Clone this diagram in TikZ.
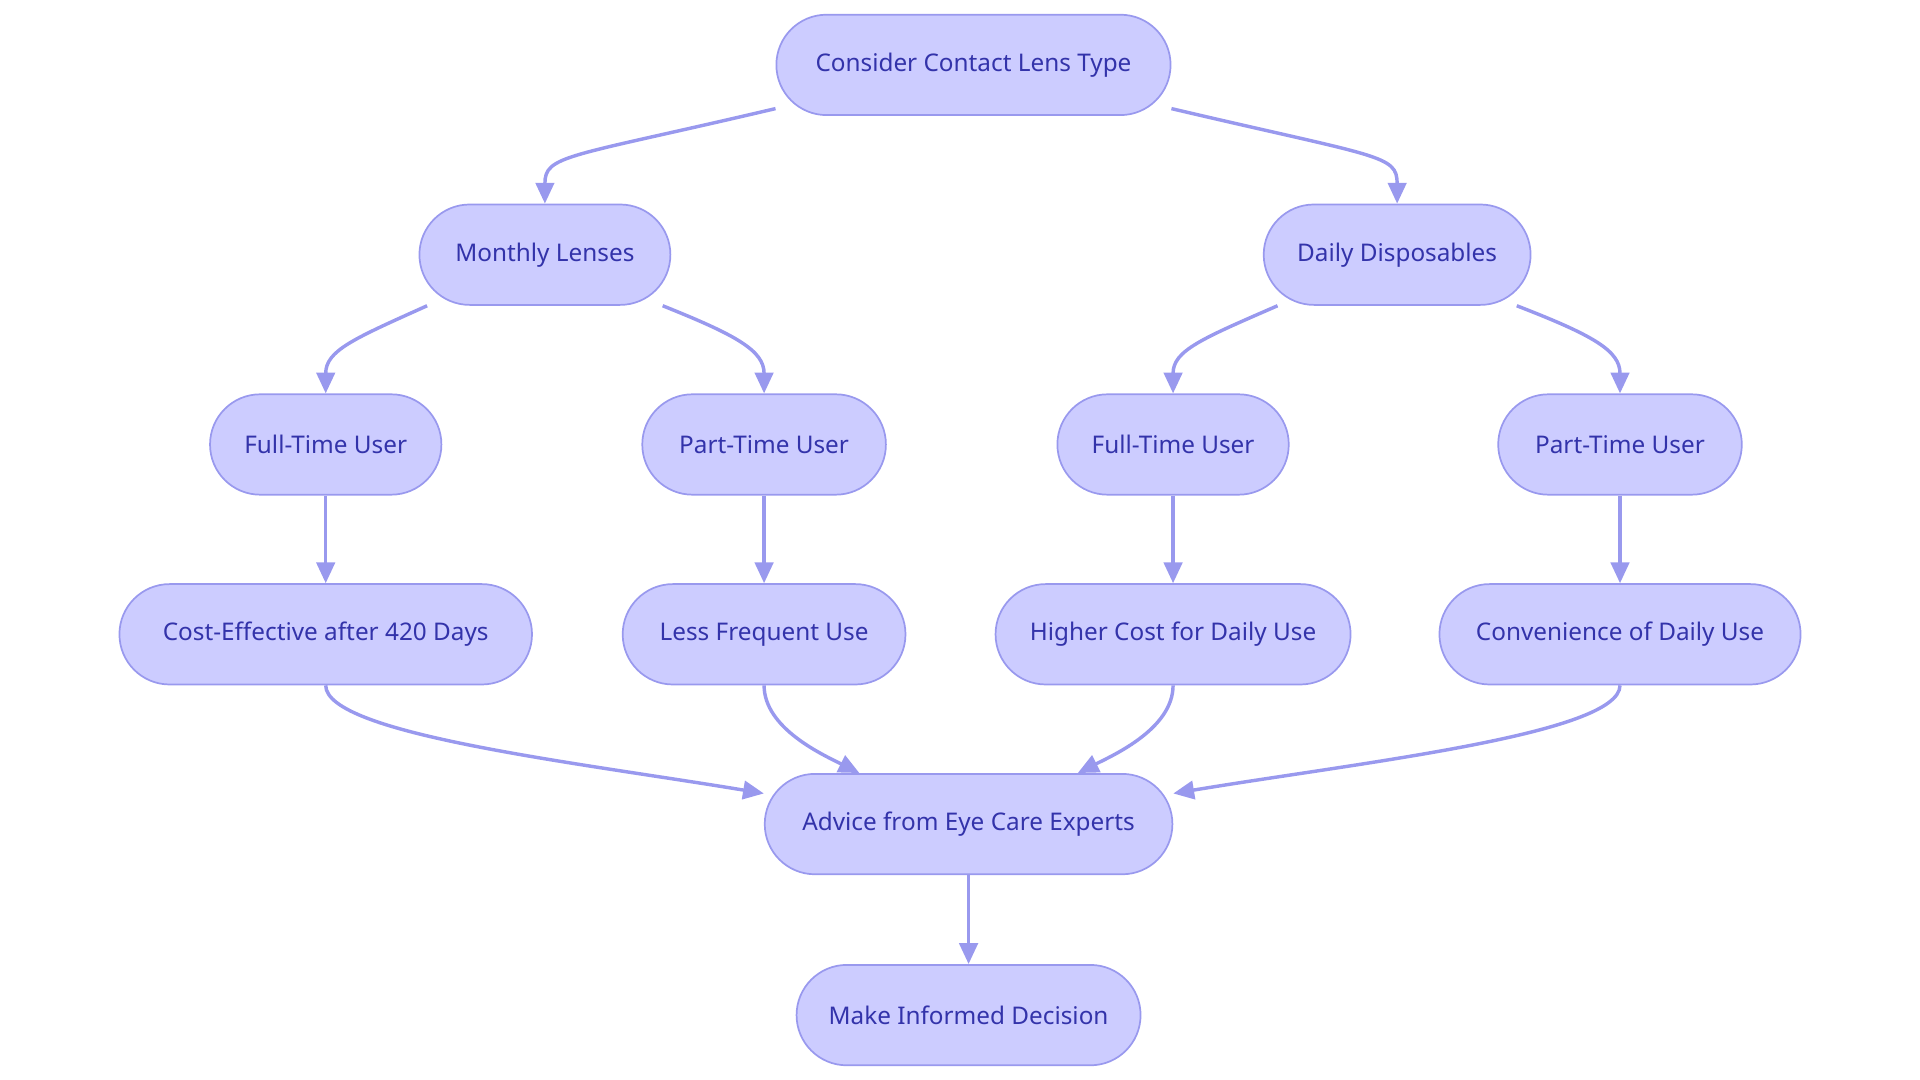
\documentclass[tikz,border=0pt]{standalone}
\usepackage{fontspec}
\setmainfont{Noto Sans}
\usetikzlibrary{arrows.meta,calc}
\definecolor{nfill}{HTML}{CCCCFF}
\definecolor{nline}{HTML}{9999EE}
\definecolor{ntext}{HTML}{3333AA}
\begin{document}
\begin{tikzpicture}[x=0.02cm,y=-0.02cm,
  box/.style={draw=nline,fill=nfill,text=ntext,rounded corners=0.82cm,minimum height=1.64cm,line width=0.8pt,font=\fontsize{11.3}{13}\selectfont,inner sep=0pt},
  arr/.style={draw=nline,line width=1.6pt,-{Triangle[length=0.34cm,width=0.3cm]}}]
\useasboundingbox (0,0) rectangle (1568,882);
\node[box,minimum width=6.44cm] (c) at (795,53) {Consider Contact Lens Type};
\node[box,minimum width=4.10cm] (m) at (445,208) {Monthly Lenses};
\node[box,minimum width=4.36cm] (d) at (1141,208) {Daily Disposables};
\node[box,minimum width=3.78cm] (f1) at (266,363) {Full-Time User};
\node[box,minimum width=3.98cm] (p1) at (624,363) {Part-Time User};
\node[box,minimum width=3.78cm] (f2) at (958,363) {Full-Time User};
\node[box,minimum width=3.98cm] (p2) at (1323,363) {Part-Time User};
\node[box,minimum width=6.74cm] (co) at (266,518) {Cost-Effective after 420 Days};
\node[box,minimum width=4.62cm] (le) at (624,518) {Less Frequent Use};
\node[box,minimum width=5.80cm] (hi) at (958,518) {Higher Cost for Daily Use};
\node[box,minimum width=5.90cm] (cv) at (1323,518) {Convenience of Daily Use};
\node[box,minimum width=6.66cm] (ad) at (791,673) {Advice from Eye Care Experts};
\node[box,minimum width=5.62cm] (mk) at (791,829) {Make Informed Decision};
\draw[arr] ($(c.south west)+(0,-6)$) .. controls +(-170,40) and +(0,-40) .. (m.north);
\draw[arr] ($(c.south east)+(0,-6)$) .. controls +(170,40) and +(0,-40) .. (d.north);
\draw[arr] ($(m.south west)+(7,0)$) .. controls +(-60,27) and +(0,-35) .. (f1.north);
\draw[arr] ($(m.south east)+(-7,0)$) .. controls +(60,24) and +(0,-35) .. (p1.north);
\draw[arr] ($(d.south west)+(12,0)$) .. controls +(-62,27) and +(0,-35) .. (f2.north);
\draw[arr] ($(d.south east)+(-12,0)$) .. controls +(62,24) and +(0,-35) .. (p2.north);
\draw[arr] (f1) -- (co);
\draw[arr] (p1) -- (le);
\draw[arr] (f2) -- (hi);
\draw[arr] (p2) -- (cv);
\draw[arr] (ad) -- (mk);
\draw[arr] (co.south) .. controls +(0,40) and +(-150,-25) .. ($(ad.west)+(0,-25)$);
\draw[arr] (le.south) .. controls +(0,35) and +(-30,-15) .. ($(ad.north west)+(78,0)$);
\draw[arr] (hi.south) .. controls +(0,35) and +(30,-15) .. ($(ad.north east)+(-78,0)$);
\draw[arr] (cv.south) .. controls +(0,40) and +(150,-25) .. ($(ad.east)+(0,-25)$);
\end{tikzpicture}
\end{document}
